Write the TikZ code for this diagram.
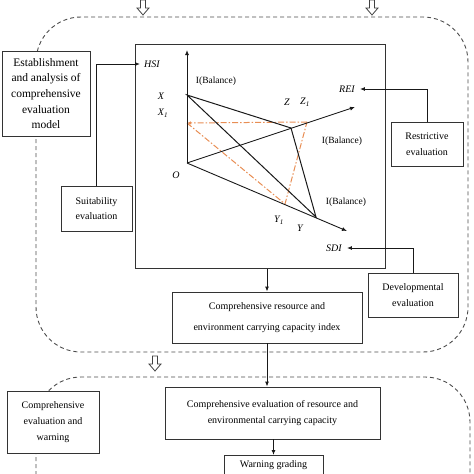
\documentclass[tikz,border=0pt]{standalone}
\usepackage{fontspec}
\setmainfont{Liberation Serif}
\usetikzlibrary{arrows.meta}
\newcommand\hollowdown[2]{%
  \draw[line width=0.8pt, draw=black!75, fill=white]
    (#1-2.5,#2) -- (#1+2.5,#2) -- (#1+2.5,#2+8) -- (#1+6,#2+8) -- (#1,#2+15)
    -- (#1-6,#2+8) -- (#1-2.5,#2+8) -- cycle;}
\begin{document}
\begin{tikzpicture}[x=1pt,y=-1pt,
  boxst/.style={draw=black!80, line width=0.9pt, fill=white, align=center, inner sep=0pt,
     font=\fontsize{10}{15.5}\selectfont},
  lab/.style={font=\fontsize{10}{12}\selectfont\itshape, inner sep=1pt},
  bal/.style={font=\fontsize{9.5}{12}\selectfont, inner sep=1pt},
  arr/.style={-{Latex[length=5pt,width=4pt]}, line width=0.9pt, draw=black!90},
  region/.style={draw=black!70, line width=0.9pt, dash pattern=on 4pt off 3pt, rounded corners=45pt},
  axis/.style={line width=1pt, draw=black!90},
  orng/.style={draw={rgb,255:red,232;green,142;blue,84}, line width=1pt, dash pattern=on 6pt off 2pt on 1.5pt off 2pt}
]
\useasboundingbox (0,0) rectangle (474,474);

% dashed regions
\draw[region] (36,17) rectangle (468,352);
\draw[region] (36,377) rectangle (470,540);

% hollow arrows
\hollowdown{143}{0}
\hollowdown{372}{0}
\hollowdown{155}{356}

% boxes
\node[boxst, minimum width=88pt, minimum height=85pt, font=\fontsize{11.5}{15.7}\selectfont] (est) at (46,93.5)
  {Establishment\\and analysis of\\comprehensive\\evaluation\\model};
\node[draw=black!80, line width=1pt, minimum width=250pt, minimum height=224pt, inner sep=0pt] (chart) at (260,156) {};
\node[boxst, minimum width=71pt, minimum height=45pt] (suit) at (96.5,208.5) {Suitability\\evaluation};
\node[boxst, minimum width=72pt, minimum height=44pt] (restr) at (427,144) {Restrictive\\evaluation};
\node[boxst, minimum width=90pt, minimum height=44pt] (dev) at (413,295) {Developmental\\evaluation};
\node[boxst, minimum width=190pt, minimum height=51pt, font=\fontsize{10}{21}\selectfont] (index) at (267,317.5)
  {Comprehensive resource and\\environment carrying capacity index};
\node[boxst, minimum width=215pt, minimum height=52pt, font=\fontsize{10}{16}\selectfont] (eval) at (272.5,413)
  {Comprehensive evaluation of resource and\\environmental carrying capacity};
\node[boxst, minimum width=92pt, minimum height=62pt, font=\fontsize{10}{16}\selectfont] (cew) at (53,422)
  {Comprehensive\\evaluation and\\warning};
\node[boxst, minimum width=99pt, text height=8pt, text depth=24pt, inner ysep=4pt, anchor=north] (warn) at (273.5,455) {Warning grading};

% axis labels
\node[lab, anchor=west, inner xsep=4pt] (hsi) at (140,64) {HSI};
\node[lab, inner xsep=5pt] (rei) at (347,89) {REI};
\node[lab, inner xsep=5pt] (sdi) at (334,248) {SDI};

% chart geometry
\coordinate (O) at (187,163);
\coordinate (X) at (187,95);
\coordinate (X1) at (187,123);
\coordinate (Z) at (291,128);
\coordinate (Z1) at (307,122);
\coordinate (Y) at (316,217);
\coordinate (Y1) at (285,204);
\coordinate (hsitip) at (187,50);
\coordinate (reitip) at (355,107);
\coordinate (sditip) at (347,231);

\draw[orng, -{Latex[length=4pt,width=3.5pt]}] (Z1) -- (X1);
\draw[orng] (X1) -- (Y1) -- (Z1);

\draw[axis, arr] (O) -- (hsitip);
\draw[axis, arr] (O) -- (reitip);
\draw[axis, arr] (O) -- (sditip);
\draw[axis] (X) -- (Z) -- (Y) -- cycle;

\node[lab] (lX) at (161,96) {X};
\node[lab] (lX1) at (163,113) {X\textsubscript{1}};
\node[lab] (lZ) at (287,102) {Z};
\node[lab] (lZ1) at (305,102) {Z\textsubscript{1}};
\node[lab] (lO) at (176,175) {O};
\node[lab] (lY1) at (279,220) {Y\textsubscript{1}};
\node[lab] (lY) at (300,228) {Y};
\node[bal] (b1) at (216,81) {I(Balance)};
\node[bal] (b2) at (342,141) {I(Balance)};
\node[bal] (b3) at (346,202) {I(Balance)};

% connectors
\draw[arr] (suit.north) |- (hsi.west);
\draw[arr] (restr.north) |- (rei.east);
\draw[arr] (dev.north) |- (sdi.east);
\draw[arr] (index.north |- chart.south) -- (index.north);
\draw[arr] (index.south) -- (index.south |- eval.north);
\draw[arr] (warn.north |- eval.south) -- (warn.north);
\end{tikzpicture}
\end{document}
